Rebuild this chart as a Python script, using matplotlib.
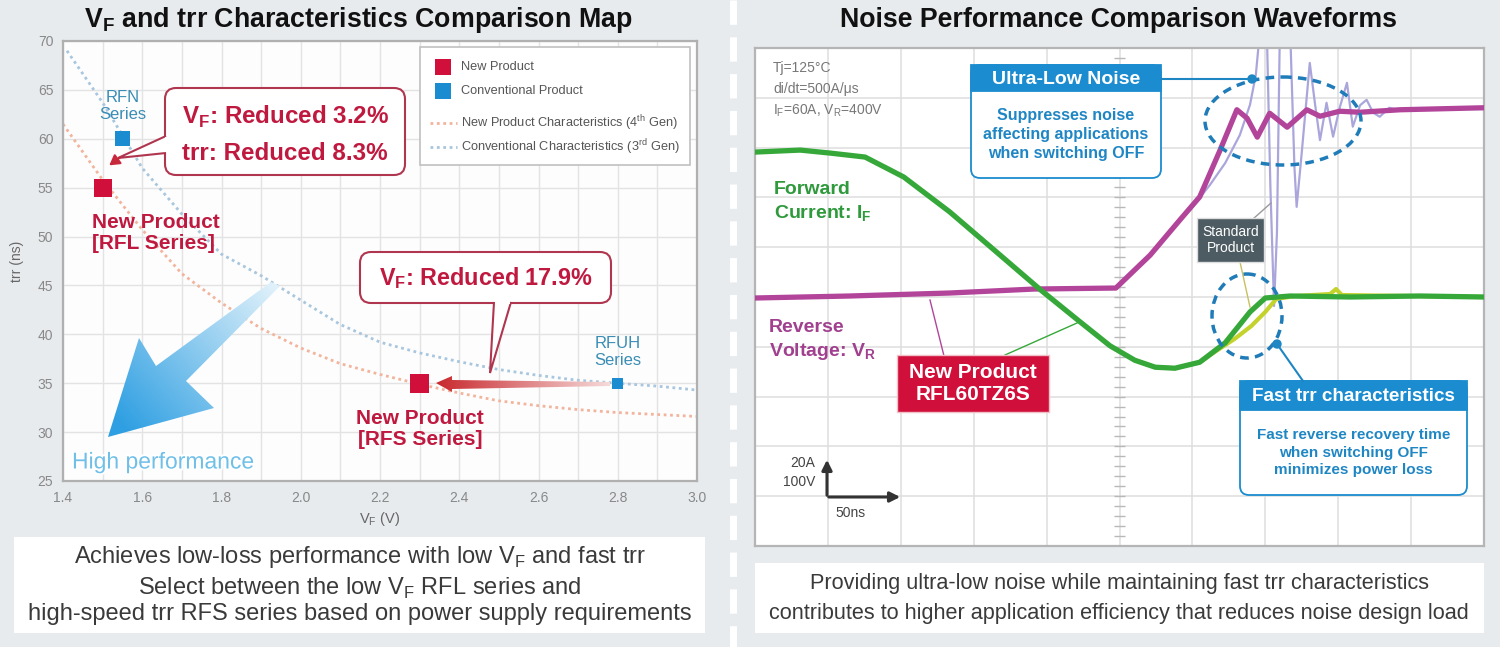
import numpy as np
import matplotlib
matplotlib.use("Agg")
import matplotlib.pyplot as plt
from matplotlib.patches import Rectangle, FancyBboxPatch, Ellipse, Polygon, Circle
from matplotlib.colors import to_rgb
import matplotlib.patheffects as pe

plt.rcParams['font.family'] = ['Liberation Sans', 'DejaVu Sans']

# ---- left: VF vs trr map ----
vf_ticks = [1.4, 1.6, 1.8, 2.0, 2.2, 2.4, 2.6, 2.8, 3.0]
trr_ticks = [25, 30, 35, 40, 45, 50, 55, 60, 65, 70]
new_vf = [1.5, 2.3]          # RFL, RFS
new_trr = [55, 35]
new_size = [13, 14]          # marker side, pt
conv_vf = [1.55, 2.8]        # RFN, RFUH
conv_trr = [60, 35]
conv_size = [11, 8]
gen4_vf = [1.40, 1.50, 1.60, 1.70, 1.80, 1.90, 2.00, 2.10, 2.20, 2.30, 2.40, 2.50, 2.60, 2.70, 2.80, 2.90, 3.00]
gen4_trr = [61.5, 55.8, 50.7, 46.2, 43.2, 40.6, 38.6, 37.0, 35.9, 34.9, 34.0, 33.2, 32.7, 32.3, 32.0, 31.8, 31.6]
gen3_vf = [1.41, 1.50, 1.60, 1.70, 1.80, 1.90, 2.00, 2.10, 2.20, 2.30, 2.40, 2.50, 2.60, 2.70, 2.80, 2.90, 3.00]
gen3_trr = [69.0, 63.7, 57.0, 52.3, 48.2, 46.0, 43.5, 41.0, 39.2, 38.1, 37.2, 36.4, 35.8, 35.3, 35.0, 34.7, 34.3]

# ---- right: scope waveforms (divisions, 50ns / 20A / 100V per div) ----
if_new_t = [0, 0.62, 1.03, 1.51, 2.04, 2.67, 3.22, 3.92, 4.46, 4.87, 5.21, 5.49, 5.76, 6.10, 6.45, 6.79, 7.00, 7.34, 8.16, 9.12, 10.0]
if_new_v = [7.91, 7.95, 7.89, 7.81, 7.41, 6.71, 6.02, 5.14, 4.50, 4.02, 3.73, 3.59, 3.57, 3.69, 4.08, 4.70, 4.98, 5.02, 5.00, 5.02, 5.00]
if_std_t = [5.21, 5.49, 5.76, 6.10, 6.31, 6.58, 6.81, 7.00, 7.15, 7.41, 7.89, 7.97, 8.05, 10.0]
if_std_v = [3.73, 3.59, 3.57, 3.69, 3.90, 4.16, 4.42, 4.70, 4.96, 5.02, 5.06, 5.16, 5.04, 5.00]
vr_new_t = [0, 1.30, 2.67, 3.83, 4.95, 5.42, 5.83, 6.10, 6.38, 6.61, 6.75, 6.89, 7.06, 7.30, 7.57, 7.75, 8.02, 8.30, 8.85, 10.0]
vr_new_v = [4.98, 5.02, 5.08, 5.16, 5.18, 5.84, 6.55, 7.01, 7.95, 8.76, 8.59, 8.21, 8.69, 8.41, 8.76, 8.63, 8.73, 8.71, 8.76, 8.80]
vr_std_t = [4.95, 5.42, 5.83, 5.97, 6.24, 6.45, 6.65, 6.79, 6.87, 6.93, 7.02, 7.07, 7.12, 7.16, 7.20, 7.34, 7.40, 7.43, 7.50, 7.61,
            7.68, 7.75, 7.84, 7.93, 8.02, 8.12, 8.20, 8.30, 8.39, 8.48, 8.57, 8.70, 8.81, 9.12, 9.5, 10.0]
vr_std_v = [5.18, 5.84, 6.55, 6.75, 7.25, 7.69, 8.25, 8.86, 9.46, 10.4, 10.4, 7.2, 4.82, 6.3, 10.4, 10.4, 7.6, 6.81, 7.9, 9.70,
            8.9, 8.15, 8.9, 8.22, 8.8, 9.30, 8.42, 8.85, 8.96, 8.7, 8.62, 8.8, 8.76, 8.76, 8.78, 8.80]

BG = '#e8ebee'
RED = '#d0103a'
CRIMSON = '#c0193f'
BLUE = '#1b8ccf'
TEAL = '#3a8db5'
W, H = 1500, 647

fig = plt.figure(figsize=(15, 6.47), dpi=100)
fig.patch.set_facecolor(BG)


def px_axes(z):
    a = fig.add_axes([0, 0, 1, 1], zorder=z)
    a.set_xlim(0, W); a.set_ylim(H, 0); a.axis('off')
    a.patch.set_alpha(0)
    return a


bg = px_axes(0)

# divider
bg.plot([733, 733], [0, H], color='white', lw=5, ls=(0, (3.5, 1.8)))
# bottom text boxes
bg.add_patch(Rectangle((14, 537), 691, 96, fc='white', ec='none'))
bg.add_patch(Rectangle((755, 563), 729, 70, fc='white', ec='none'))
bg.text(358, 20, 'V$_\\mathregular{F}$ and trr Characteristics Comparison Map', ha='center', va='center',
        fontsize=19.3, fontweight='bold', color='#111')
bg.text(1119, 20, 'Noise Performance Comparison Waveforms', ha='center', va='center',
        fontsize=19.3, fontweight='bold', color='#111')
txt = dict(ha='center', va='center', color='#3a3a3a')
bg.text(360, 557, 'Achieves low-loss performance with low V$_\\mathregular{F}$ and fast trr', fontsize=17, **txt)
bg.text(360, 588, 'Select between the low V$_\\mathregular{F}$ RFL series and', fontsize=17, **txt)
bg.text(360, 614, 'high-speed trr RFS series based on power supply requirements', fontsize=17, **txt)
bg.text(1119, 583, 'Providing ultra-low noise while maintaining fast trr characteristics', fontsize=15.6, **txt)
bg.text(1119, 614, 'contributes to higher application efficiency that reduces noise design load', fontsize=15.6, **txt)

# ---- left chart ----
ax = fig.add_axes([63 / W, 166 / H, 634 / W, 440 / H], zorder=1)
ax.set_facecolor('#fdfdfd')
ax.set_xlim(1.4, 3.0); ax.set_ylim(25, 70)
ax.set_xticks(vf_ticks); ax.set_yticks(trr_ticks)
ax.set_xticks(np.arange(1.5, 3.0, 0.2), minor=True)
ax.set_xticklabels([f'{v:.1f}' for v in vf_ticks])
ax.grid(which='both', color='#e3e3e3', lw=1)
ax.set_axisbelow(True)
ax.tick_params(which='both', length=0, labelsize=10, colors='#888', pad=7)
for s in ax.spines.values():
    s.set_color('#b0b0b0'); s.set_linewidth(1.6)
ax.set_xlabel('V$_\\mathregular{F}$ (V)', fontsize=10.5, color='#666', labelpad=4)
ax.set_ylabel('trr (ns)', fontsize=10, color='#666', labelpad=10)
ax.plot(gen4_vf, gen4_trr, color='#f2b49c', lw=2, ls=(0, (1, 1.3)), zorder=2)
ax.plot(gen3_vf, gen3_trr, color='#a8c6de', lw=2, ls=(0, (1, 1.3)), zorder=2)
ax.scatter(conv_vf, conv_trr, s=np.square(conv_size), marker='s', color=BLUE, zorder=4, lw=0)
ax.scatter(new_vf, new_trr, s=np.square(new_size), marker='s', color=RED, zorder=4, lw=0)

# ---- right scope ----
sc = fig.add_axes([755 / W, 101 / H, 729 / W, 498 / H], zorder=1)
sc.set_facecolor('white')
sc.set_xlim(0, 10); sc.set_ylim(0, 10)
sc.set_xticks(range(11)); sc.set_yticks(range(11))
sc.grid(color='#dedede', lw=1.1)
sc.tick_params(length=0, labelbottom=False, labelleft=False)
for s in sc.spines.values():
    s.set_color('#b5b5b5'); s.set_linewidth(1.6)
sc.hlines(np.arange(0.2, 10, 0.2), 4.93, 5.07, color='#b8b8b8', lw=1)
sc.plot(vr_std_t, vr_std_v, color='#aaa6dc', lw=1.6, zorder=2)
sc.plot(if_std_t, if_std_v, color='#c4d22c', lw=3, zorder=2)
sc.plot(vr_new_t, vr_new_v, color='#b2449a', lw=3.8, zorder=3)
sc.plot(if_new_t, if_new_v, color='#36a83a', lw=3.8, zorder=4)

top = px_axes(2)


def gradient_poly(a, pts, c0, c1, p0, p1):
    poly = Polygon(pts, closed=True, fc='none', ec='none')
    a.add_patch(poly)
    xs = [p[0] for p in pts]; ys = [p[1] for p in pts]
    x0, x1, y0, y1 = min(xs), max(xs), min(ys), max(ys)
    gx, gy = np.meshgrid(np.linspace(x0, x1, 200), np.linspace(y0, y1, 200))
    d = np.subtract(p1, p0)
    t = np.clip(((gx - p0[0]) * d[0] + (gy - p0[1]) * d[1]) / (d @ d), 0, 1)
    img = np.array(to_rgb(c0)) + t[..., None] * (np.array(to_rgb(c1)) - np.array(to_rgb(c0)))
    im = a.imshow(img, extent=(x0, x1, y1, y0), origin='upper', aspect='auto', zorder=3)
    im.set_clip_path(poly)
    a.set_xlim(0, W); a.set_ylim(H, 0)


# big blue "high performance" arrow
gradient_poly(top, [(271, 282), (280, 286), (186, 381), (214, 408), (108, 437), (139, 338), (156, 366)],
              '#e2f2fb', '#2e9fe2', (276, 284), (120, 425))
# red arrow RFUH -> RFS
gradient_poly(top, [(436, 383), (452, 376), (452, 380), (610, 382), (610, 386), (452, 389), (452, 392)],
              '#c8282c', '#f6dada', (436, 384), (610, 384))
top.text(72, 462, 'High performance', ha='left', va='center', fontsize=16.5, color='#6fbfe8',
         path_effects=[pe.withStroke(linewidth=3, foreground='white')])

# left labels
top.text(123, 106, 'RFN\nSeries', ha='center', va='center', fontsize=12, color=TEAL, linespacing=1.15)
top.text(618, 352, 'RFUH\nSeries', ha='center', va='center', fontsize=12, color=TEAL, linespacing=1.15)
top.text(92, 233, 'New Product\n[RFL Series]', ha='left', va='center', fontsize=15, fontweight='bold',
         color=CRIMSON, linespacing=1.15)
top.text(420, 429, 'New Product\n[RFS Series]', ha='center', va='center', fontsize=15, fontweight='bold',
         color=CRIMSON, linespacing=1.15)


# callouts
def callout(x, y, w, h, tail):
    top.add_patch(FancyBboxPatch((x, y), w, h, boxstyle='round,pad=0,rounding_size=11',
                                 fc='white', ec='#b0364f', lw=1.5, zorder=4))
    top.add_patch(Polygon(tail, closed=False, fc='white', ec='#b0364f', lw=1.5, zorder=5))


callout(165, 88, 240, 87, [(166, 136), (118, 158), (166, 153)])
top.add_patch(Rectangle((165.2, 137), 3, 15, fc='white', ec='none', zorder=6))
top.annotate('', xy=(107, 167), xytext=(122, 156),
             arrowprops=dict(arrowstyle='-|>,head_width=0.35,head_length=0.6', color='#c8283c', lw=1.5), zorder=6)
top.text(182, 117, 'V$_\\mathregular{F}$: Reduced 3.2%', fontsize=17.4, fontweight='bold', color=CRIMSON, va='center', zorder=6)
top.text(182, 153, 'trr: Reduced 8.3%', fontsize=17.4, fontweight='bold', color=CRIMSON, va='center', zorder=6)
callout(360, 252, 251, 51, [(494, 302), (490, 373), (511, 302)])
top.add_patch(Rectangle((495, 299.5), 15, 4, fc='white', ec='none', zorder=6))
top.text(486, 278, 'V$_\\mathregular{F}$: Reduced 17.9%', ha='center', fontsize=16.8, fontweight='bold',
         color=CRIMSON, va='center', zorder=6)

# legend
top.add_patch(Rectangle((420, 47), 270, 118, fc='white', ec='#c0c0c0', lw=1.2, zorder=4))
top.scatter([443], [67], s=144, marker='s', color=RED, lw=0, zorder=5)
top.scatter([443], [91], s=144, marker='s', color=BLUE, lw=0, zorder=5)
top.plot([430, 457], [123, 123], color='#f2b49c', lw=2, ls=(0, (1, 1.3)), zorder=5)
top.plot([430, 457], [147, 147], color='#a8c6de', lw=2, ls=(0, (1, 1.3)), zorder=5)
lg = dict(fontsize=9.2, color='#555', va='center', zorder=5)
top.text(461, 67, 'New Product', **lg)
top.text(461, 91, 'Conventional Product', **lg)
top.text(461, 123, 'New Product Characteristics (4$^\\mathregular{th}$ Gen)', **lg)
top.text(461, 147, 'Conventional Characteristics (3$^\\mathregular{rd}$ Gen)', **lg)

# ---- right annotations ----
cond = dict(fontsize=10, color='#777', va='center')
top.text(773, 68, 'Tj=125°C', **cond)
top.text(773, 89, 'di/dt=500A/μs', **cond)
top.text(773, 111, 'I$_\\mathregular{F}$=60A, V$_\\mathregular{R}$=400V', **cond)

top.text(774, 190, 'Forward', fontsize=14, fontweight='bold', color='#2f9a3c', va='center')
top.text(774, 214, 'Current: I$_\\mathregular{F}$', fontsize=14, fontweight='bold', color='#2f9a3c', va='center')
top.text(769, 327, 'Reverse', fontsize=14, fontweight='bold', color='#a0408f', va='center')
top.text(769, 352, 'Voltage: V$_\\mathregular{R}$', fontsize=14, fontweight='bold', color='#a0408f', va='center')


def blue_box(x, y, w, h1, h2, head, body, hs, bs):
    top.add_patch(FancyBboxPatch((x, y), w, h1 + h2, boxstyle='round,pad=0,rounding_size=9',
                                 fc='white', ec=BLUE, lw=1.3, zorder=4))
    top.add_patch(Rectangle((x, y), w, h1, fc=BLUE, ec=BLUE, lw=1.3, zorder=5))
    top.text(x + w / 2, y + h1 / 2 + 1, head, ha='center', va='center', fontsize=hs, fontweight='bold',
             color='white', zorder=6)
    top.text(x + w / 2, y + h1 + h2 / 2, body, ha='center', va='center', fontsize=bs, fontweight='bold',
             color='#1f86c4', linespacing=1.35, zorder=6)


blue_box(971, 65, 190, 26, 87, 'Ultra-Low Noise', 'Suppresses noise\naffecting applications\nwhen switching OFF', 14, 11.5)
blue_box(1240, 381, 227, 29, 85, 'Fast trr characteristics', 'Fast reverse recovery time\nwhen switching OFF\nminimizes power loss', 13.6, 11)

top.plot([1161, 1252], [79, 79], color='#1f86c4', lw=1.5, zorder=5)
top.add_patch(Circle((1252, 79), 4, color='#1f86c4', zorder=6))
top.add_patch(Ellipse((1283, 121), 156, 88, fc='none', ec='#1f7cb8', lw=2.5, ls=(0, (2.5, 1.8)), zorder=5))
top.add_patch(Ellipse((1247, 316), 70, 84, fc='none', ec='#1f7cb8', lw=2.5, ls=(0, (2.5, 1.8)), zorder=5))
top.plot([1277, 1303], [344, 381], color='#1f86c4', lw=1.5, zorder=5)
top.add_patch(Circle((1277, 344), 4, color='#1f86c4', zorder=6))

# standard product tag
top.plot([1253, 1271], [219, 203], color='#9a9a9a', lw=1, zorder=4)
top.plot([1240, 1250], [262, 307], color='#c8c060', lw=1, zorder=4)
top.add_patch(Rectangle((1197, 218), 67, 44, fc='#4d5b63', ec='#dddddd', lw=1, zorder=5))
top.text(1230.5, 240, 'Standard\nProduct', ha='center', va='center', fontsize=10, color='white',
         linespacing=1.2, zorder=6)

# new product tag
top.plot([944, 930], [356, 300], color='#b2449a', lw=1, zorder=4)
top.plot([1005, 1077], [355, 323], color='#36a83a', lw=1, zorder=4)
top.add_patch(Rectangle((897, 355), 152, 57, fc=RED, ec='#f0c0c8', lw=1, zorder=5))
top.text(973, 384, 'New Product\nRFL60TZ6S', ha='center', va='center', fontsize=15, fontweight='bold',
         color='white', linespacing=1.2, zorder=6)

# scale indicator
top.annotate('', xy=(827, 457), xytext=(827, 498),
             arrowprops=dict(arrowstyle='-|>,head_width=0.3,head_length=0.6', color='#333', lw=2.2))
top.annotate('', xy=(903, 497), xytext=(826, 497),
             arrowprops=dict(arrowstyle='-|>,head_width=0.3,head_length=0.6', color='#333', lw=2.2))
top.text(815, 463, '20A', ha='right', va='center', fontsize=10, color='#444')
top.text(815, 482, '100V', ha='right', va='center', fontsize=10, color='#444')
top.text(850, 513, '50ns', ha='center', va='center', fontsize=10, color='#444')

fig.savefig('out.png', dpi=100, facecolor=BG)
